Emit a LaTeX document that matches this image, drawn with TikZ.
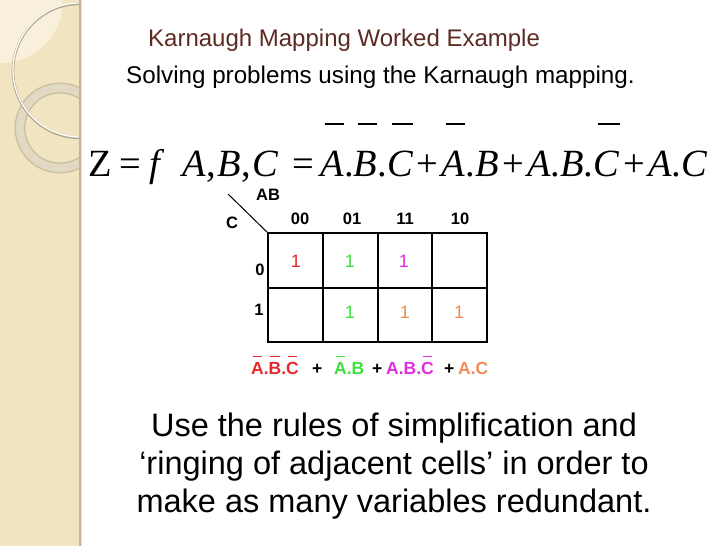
\documentclass[tikz,border=0pt]{standalone}
\usepackage{fontspec}
\setmainfont{Liberation Sans}
\newfontfamily\tms{Liberation Serif}
\definecolor{band}{RGB}{241,228,193}
\definecolor{bandlight}{RGB}{248,240,218}
\definecolor{bandedge}{RGB}{196,182,148}
\definecolor{ringcol}{RGB}{214,203,170}
\definecolor{ringshadow}{RGB}{175,165,140}
\definecolor{titlecol}{RGB}{92,43,34}
\definecolor{kred}{RGB}{232,40,45}
\definecolor{kgreen}{RGB}{60,225,60}
\definecolor{kmag}{RGB}{225,45,225}
\definecolor{korange}{RGB}{240,140,85}
\newcommand\ovl[2][1.32em]{{\setbox0\hbox{#2}\rlap{\hspace{0.18\wd0}\raisebox{#1}{\rule{0.82\wd0}{0.05em}}}\box0}}
\newcommand\ovs[2][0.95em]{{\setbox0\hbox{#2}\rlap{\hspace{0.12\wd0}\raisebox{#1}{\rule{0.76\wd0}{0.08em}}}\box0}}
\begin{document}
\begin{tikzpicture}[x=1pt,y=-1pt,
  title/.style={anchor=base west,inner sep=0,text=titlecol,font=\fontsize{24}{28}\selectfont},
  sub/.style={anchor=base west,inner sep=0,font=\fontsize{24.2}{28}\selectfont},
  eqn/.style={anchor=base west,inner sep=0,font=\tms\fontsize{38.5}{42}\selectfont},
  lab/.style={inner sep=0,font=\bfseries\fontsize{16.5}{18}\selectfont},
  one/.style={inner sep=0,font=\fontsize{18}{20}\selectfont},
  term/.style={anchor=base west,inner sep=0,font=\bfseries\fontsize{17.5}{20}\selectfont},
  para/.style={anchor=base,inner sep=0,font=\fontsize{32.5}{36}\selectfont},
  grid/.style={line width=1.3pt,black}]
\useasboundingbox (0,0) rectangle (728,546);
\fill[white] (0,0) rectangle (728,546);
% left band
\fill[band] (0,0) rectangle (80,546);
\begin{scope}
  \clip (0,0) rectangle (79,546);
  \fill[bandlight] (0,0) circle (63pt);
  \draw[line width=11pt,ringshadow!70!band,opacity=0.8] (60,128) circle (40pt);
  \draw[line width=8pt,ringcol!60!white,opacity=0.8] (60,128) circle (40pt);
  \draw[line width=2.6pt,ringshadow] (80,70.8) circle (67pt);
  \draw[line width=1.3pt,white] (80,70) circle (67pt);
\end{scope}
\draw[line width=2pt,bandedge] (80,0) -- (80,546);
\draw[line width=1pt,bandedge!40!white] (81.8,0) -- (81.8,546);
% texts
\node[title] (title) at (148,46) {Karnaugh Mapping Worked Example};
\node[sub] (sub) at (126,83) {Solving problems using the Karnaugh mapping.};
\node[eqn] (eq) at (88,176) {Z\kern8pt=\kern8pt\textit{f}\kern18pt\textit{A},\kern2pt\textit{B},\kern2pt\textit{C}\kern14pt=\kern6pt\ovl{\textit{A}}.\ovl{\textit{B}}.\ovl{\textit{C}}\kern3.5pt+\kern3.5pt\ovl{\textit{A}}.\textit{B}\kern3.5pt+\kern3.5pt\textit{A}.\textit{B}.\ovl{\textit{C}}\kern3.5pt+\kern3.5pt\textit{A}.\textit{C}};
% K-map
\coordinate (tl) at (268,233);
\coordinate (br) at (487,342);
\coordinate (diag) at (228,194);
\draw[grid] (tl) rectangle (br);
\draw[grid] (323,233) -- (323,342);
\draw[grid] (378,233) -- (378,342);
\draw[grid] (432,233) -- (432,342);
\draw[grid] (268,288) -- (487,288);
\draw[line width=1pt] (diag) -- (tl);
\node[lab] (ab) at (268,195) {AB};
\node[lab] (c) at (232,223) {C};
\node[lab] (h00) at (300,219) {00};
\node[lab] (h01) at (352,219) {01};
\node[lab] (h11) at (405,219) {11};
\node[lab] (h10) at (460,219) {10};
\node[lab] (r0) at (260,270) {0};
\node[lab] (r1) at (259,310) {1};
\node[one,text=kred] (c00) at (296,261) {1};
\node[one,text=kgreen] (c01) at (350,261) {1};
\node[one,text=kmag] (c11) at (404,261) {1};
\node[one,text=kgreen] (d01) at (350,312) {1};
\node[one,text=korange] (d11) at (405,312) {1};
\node[one,text=korange] (d10) at (459,312) {1};
% expression below
\node[term,text=kred] (t1) at (251,374) {\ovs{A}.\ovs{B}.\ovs{C}};
\node[term] (p1) at (312,374) {+};
\node[term,text=kgreen] (t2) at (334,374) {\ovs{A}.B};
\node[term] (p2) at (372,374) {+};
\node[term,text=kmag] (t3) at (386,374) {A.B.\ovs{C}};
\node[term] (p3) at (444,374) {+};
\node[term,text=korange] (t4) at (458,374) {A.C};
% paragraph
\node[para] (l1) at (394,436) {Use the rules of simplification and};
\node[para] (l2) at (394,474) {‘ringing of adjacent cells’ in order to};
\node[para] (l3) at (394,512) {make as many variables redundant.};
\end{tikzpicture}
\end{document}
